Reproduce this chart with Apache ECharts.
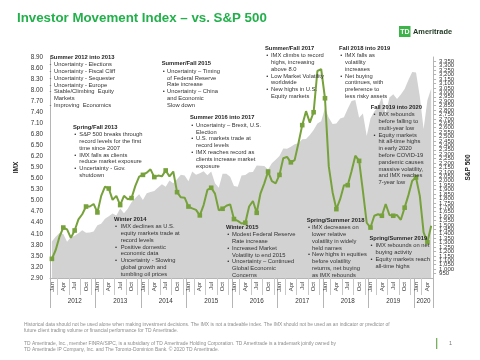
<!DOCTYPE html>
<html><head><meta charset="utf-8">
<script src="https://cdn.jsdelivr.net/npm/echarts@6/dist/echarts.min.js"></script>
<style>html,body{margin:0;padding:0;background:#fff}#c{width:480px;height:360px}</style>
</head><body><div id="c"></div>
<script>
// ---- data ----
const years = ['2012','2013','2014','2015','2016','2017','2018','2019','2020'];
const monthNames = ['Jan','Feb','Mar','Apr','May','Jun','Jul','Aug','Sep','Oct','Nov','Dec'];
const monthsShownIn2020 = 5;

const imx2012 = [3.42,3.66,4.02,4.27,4.22,3.99,4.19,4.49,4.63,4.84,4.84,4.91];
const imx2013 = [4.68,5.13,5.38,5.33,5.02,5.13,4.88,5.13,5.04,5.07,5.40,5.65];
const imx2014 = [5.70,5.76,5.85,5.64,5.68,5.66,5.82,5.66,5.79,5.23,5.09,5.08];
const imx2015 = [4.84,4.79,4.75,4.60,4.88,5.29,5.35,5.19,4.74,4.78,4.86,4.90];
const imx2016 = [4.50,4.45,4.38,4.40,4.84,4.99,4.67,5.20,5.47,5.79,5.53,5.47];
const imx2017 = [5.70,6.15,6.19,6.04,6.10,6.56,7.05,7.43,7.12,7.40,8.52,8.57];
const imx2018 = [7.78,5.93,5.23,4.77,5.04,5.42,5.42,5.80,6.22,6.08,5.26,4.40];
const imx2019 = [4.27,4.59,4.63,4.59,4.91,4.61,4.59,4.61,4.48,4.81,5.15,5.54];
const imx2020 = [5.63,5.13,4.14,3.87,4.32];

const sp2012 = [1312,1366,1408,1398,1310,1362,1379,1407,1441,1412,1416,1426];
const sp2013 = [1498,1515,1569,1598,1631,1606,1686,1633,1682,1757,1806,1848];
const sp2014 = [1783,1859,1872,1884,1924,1960,1931,2003,1972,2018,2068,2059];
const sp2015 = [1995,2105,2068,2086,2107,2063,2104,1972,1920,2079,2080,2044];
const sp2016 = [1940,1932,2060,2065,2097,2099,2174,2171,2168,2126,2199,2239];
const sp2017 = [2279,2364,2363,2384,2412,2423,2470,2472,2519,2575,2648,2674];
const sp2018 = [2824,2714,2641,2648,2705,2718,2816,2902,2914,2712,2760,2507];
const sp2019 = [2704,2784,2834,2946,2752,2942,2980,2926,2977,3038,3141,3231];
const sp2020 = [3226,2954,2585,2912,3044];

const imxAxis = {min: 2.9, max: 8.9, labelStep: 0.3};
const spAxis = {min: 900, max: 3400, step: 50};

// ---- derived structures ----
const categories = [];
years.forEach(y => {
  const n = y === '2020' ? monthsShownIn2020 : 12;
  for (let i = 0; i < n; i++) categories.push(monthNames[i] + ' ' + y);
});
const imx = [].concat(imx2012, imx2013, imx2014, imx2015, imx2016, imx2017, imx2018, imx2019, imx2020);
const sp500 = [].concat(sp2012, sp2013, sp2014, sp2015, sp2016, sp2017, sp2018, sp2019, sp2020);

const FONT = "'Liberation Sans', Arial, sans-serif";
const LH = 6.8, FS = 5.8, HG = 7.6;

function block(hx, cy, title, bx, tx, items, marker) {
  const els = [];
  els.push({type:'text', z:100, style:{x:hx, y:cy - LH/2, text:title, fill:'#262626',
    font:'bold ' + FS + 'px ' + FONT, verticalAlign:'top', lineHeight:LH}});
  const lines = [], marks = [];
  items.forEach(it => it.forEach((l, i) => { lines.push(l); marks.push(i === 0 ? (marker || '•') : ' '); }));
  const top = cy + HG - LH/2;
  els.push({type:'text', z:100, style:{x:bx, y:top, text:marks.join('\n'), fill:'#333',
    font:FS + 'px ' + FONT, verticalAlign:'top', lineHeight:LH}});
  els.push({type:'text', z:100, style:{x:tx, y:top, text:lines.join('\n'), fill:'#333',
    font:FS + 'px ' + FONT, verticalAlign:'top', lineHeight:LH}});
  return els;
}

const graphics = [].concat(
  [{type:'text', z:100, style:{x:17, y:18, text:'Investor Movement Index – vs. S&P 500', fill:'#22b04b',
     font:'bold 13.3px ' + FONT, verticalAlign:'middle'}},
   {type:'rect', z:100, shape:{x:399, y:26, width:11.5, height:11}, style:{fill:'#3db449'}},
   {type:'text', z:101, style:{x:404.8, y:31.8, text:'TD', fill:'#fff', font:'bold 7px ' + FONT, align:'center', verticalAlign:'middle'}},
   {type:'text', z:100, style:{x:413, y:31.8, text:'Ameritrade', fill:'#1d3620', font:'bold 7.4px ' + FONT, verticalAlign:'middle'}}],
  block(50, 57, 'Summer 2012 into 2013', 49.5, 54,
    [['Uncertainty - Elections'],['Uncertainty - Fiscal Cliff'],['Uncertainty - Sequester'],['Uncertainty - Europe'],
     ['Stable/Climbing  Equity','Markets'],['Improving  Economics']], '-'),
  block(73, 127, 'Spring/Fall 2013', 74.3, 79.3,
    [['S&P 500 breaks through','record levels for the first','time since 2007'],['IMX falls as clients','reduce market exposure'],['Uncertainty - Gov.','shutdown']]),
  block(114, 219, 'Winter 2014', 115, 120.7,
    [['IMX declines as U.S.','equity markets trade at','record levels'],['Positive domestic','economic data'],['Uncertainty - Slowing','global growth and','tumbling oil prices']]),
  block(161.7, 63.5, 'Summer/Fall 2015', 162.7, 167,
    [['Uncertainty – Timing','of Federal Reserve','Rate increase'],['Uncertainty – China','and Economic','Slow down']]),
  block(190, 117.5, 'Summer 2016 into 2017', 191.3, 196,
    [['Uncertainty – Brexit, U.S.','Election'],['U.S. markets trade at','record levels'],['IMX reaches record as','clients increase market','exposure']]),
  block(226, 227, 'Winter 2015', 227.3, 232,
    [['Modest Federal Reserve','Rate increase'],['Increased Market','Volatility to end 2015'],['Uncertainty – Continued','Global Economic','Concerns']]),
  block(265, 48, 'Summer/Fall 2017', 266.3, 271,
    [['IMX climbs to record','highs, increasing','above 8.0'],['Low Market Volatility','worldwide'],['New highs in U.S.','Equity markets']]),
  block(339, 48, 'Fall 2018 into 2019', 340.3, 345,
    [['IMX falls as','volatility','increases'],['Net buying','continues, with','preference to','less risky assets']]),
  block(370.7, 107, 'Fall 2019 into 2020', 373.5, 378.5,
    [['IMX rebounds','before falling to','multi-year low'],['Equity markets','hit all-time highs','in early 2020','before COVID-19','pandemic causes','massive volatility,','and IMX reaches','7-year low']]),
  block(306.7, 220, 'Spring/Summer 2018', 308, 312,
    [['IMX decreases on','lower relative','volatility in widely','held names'],['New highs in equities','before volatility','returns, net buying','as IMX rebounds']]),
  block(369.5, 238, 'Spring/Summer 2019', 370.5, 375.5,
    [['IMX rebounds on net','buying activity'],['Equity markets reach','all-time highs']]),
  [{type:'text', z:100, style:{x:24, y:322, text:'Historical data should not be used alone when making investment decisions. The IMX is not a tradeable index. The IMX should not be used as an indicator or predictor of\nfuture client trading volume or financial performance for TD Ameritrade.',
     fill:'#8c8c8c', font:'4.9px ' + FONT, verticalAlign:'top', lineHeight:6}},
   {type:'text', z:100, style:{x:24, y:340, text:'TD Ameritrade, Inc., member FINRA/SIPC, is a subsidiary of TD Ameritrade Holding Corporation. TD Ameritrade is a trademark jointly owned by\nTD Ameritrade IP Company, Inc. and The Toronto-Dominion Bank. © 2020 TD Ameritrade.',
     fill:'#8c8c8c', font:'4.9px ' + FONT, verticalAlign:'top', lineHeight:6.5}},
   {type:'rect', z:100, shape:{x:436, y:338, width:1.3, height:11}, style:{fill:'#79b060'}},
   {type:'text', z:100, style:{x:449, y:343.5, text:'1', fill:'#777', font:'5.5px ' + FONT, verticalAlign:'middle'}}]
);

const chart = echarts.init(document.getElementById('c'), null, {renderer:'canvas'});
chart.setOption({
  backgroundColor:'#ffffff',
  animation:false,
  grid:{left:50, right:43, top:57, bottom:82},
  xAxis:[
    {type:'category', data:categories, boundaryGap:true,
     axisLine:{show:true, lineStyle:{color:'#b5b5b5', width:1}},
     axisTick:{show:true, length:17, interval:(i) => i % 3 === 2, lineStyle:{color:'#c8c8c8'}},
     axisLabel:{interval:(i) => i % 3 === 0, rotate:90, margin:4, fontSize:6, color:'#333', fontFamily:FONT,
       formatter:(v) => v.split(' ')[0]},
     splitLine:{show:false}},
    {type:'category', data:categories, boundaryGap:true, position:'bottom',
     axisLine:{show:false},
     axisTick:{show:true, length:30, interval:(i) => i % 12 === 0, lineStyle:{color:'#b5b5b5'}},
     axisLabel:{interval:(i, v) => { const p = v.split(' '); return p[1] === '2020' ? p[0] === 'Mar' : p[0] === 'Jul'; },
       margin:20, fontSize:6.3, color:'#333', fontFamily:FONT, formatter:(v) => v.split(' ')[1]},
     splitLine:{show:false}}
  ],
  yAxis:[
    {type:'value', min:imxAxis.min, max:imxAxis.max, interval:0.1, position:'left',
     name:'IMX', nameLocation:'middle', nameGap:27, nameRotate:90,
     nameTextStyle:{fontSize:6.5, fontWeight:'bold', color:'#222', fontFamily:FONT},
     axisLine:{show:true, lineStyle:{color:'#b5b5b5'}},
     axisTick:{show:false},
     axisLabel:{fontSize:6.3, color:'#333', margin:7, fontFamily:FONT,
       formatter:(v) => { const k = Math.round((v - imxAxis.min) * 10); return k % 3 === 0 ? v.toFixed(2) : ''; }},
     splitLine:{show:false}},
    {type:'value', min:spAxis.min, max:spAxis.max, interval:spAxis.step, position:'right',
     name:'S&P 500', nameLocation:'middle', nameGap:29, nameRotate:90,
     nameTextStyle:{fontSize:6.5, fontWeight:'bold', color:'#222', fontFamily:FONT},
     axisLine:{show:true, lineStyle:{color:'#b5b5b5'}},
     axisTick:{show:true, length:3, lineStyle:{color:'#b5b5b5'}},
     axisLabel:{fontSize:6, color:'#333', margin:6, fontFamily:FONT,
       formatter:(v) => Number(v).toLocaleString('en-US')},
     splitLine:{show:false}}
  ],
  series:[
    {type:'line', name:'S&P 500', xAxisIndex:0, yAxisIndex:1, data:sp500, symbol:'none',
     lineStyle:{width:0}, areaStyle:{color:'#d2d2d2', opacity:1}, z:1, silent:true},
    {type:'line', name:'IMX', xAxisIndex:0, yAxisIndex:0, data:imx, symbol:'rect', symbolSize:4.6,
     itemStyle:{color:'#77a23b'}, lineStyle:{color:'#77a23b', width:2}, z:3}
  ],
  graphic:graphics
});
</script></body></html>
